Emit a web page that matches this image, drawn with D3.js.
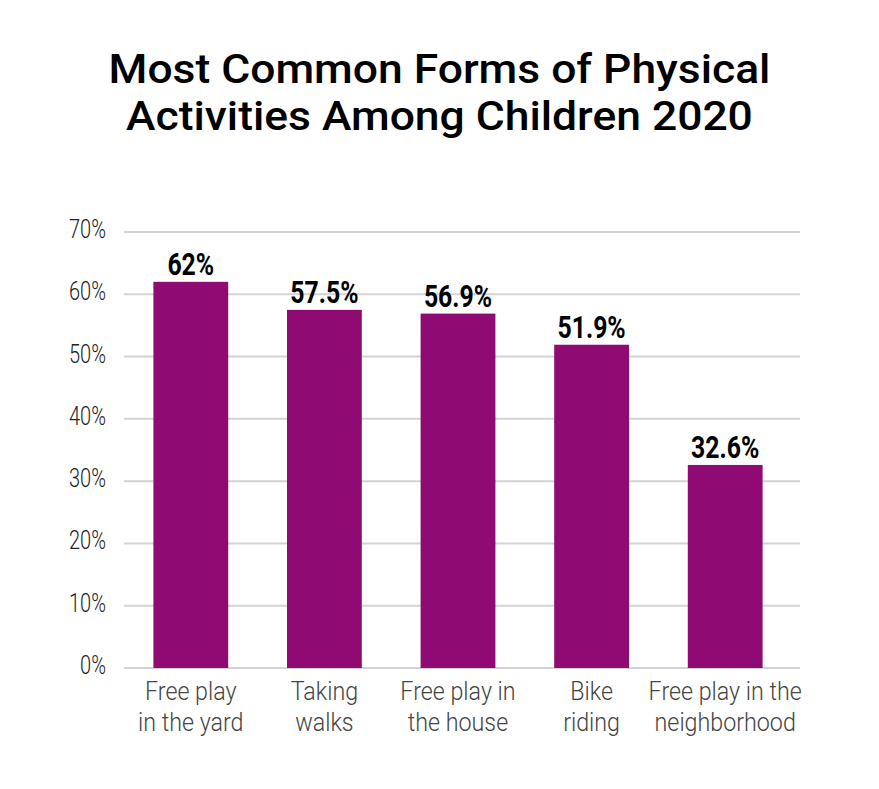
<!DOCTYPE html>
<html>
<head>
<meta charset="utf-8">
<script src="https://cdn.jsdelivr.net/npm/d3@7"></script>
<style>
  html, body { margin: 0; padding: 0; background: #fff; }
  svg { display: block; }
</style>
</head>
<body>
<svg id="chart"></svg>
<script>
// data
const titleLines = ["Most Common Forms of Physical", "Activities Among Children 2020"];
const categories = [
  ["Free play", "in the yard"],
  ["Taking", "walks"],
  ["Free play in", "the house"],
  ["Bike", "riding"],
  ["Free play in the", "neighborhood"]
];
const values = [62, 57.5, 56.9, 51.9, 32.6];
const yTicks = [0, 10, 20, 30, 40, 50, 60, 70];

const W = 879, H = 789;
const margin = { top: 232, right: 92, bottom: 121, left: 124 };
const gridRight = 800;
const font = "Roboto, sans-serif";

// no condensed face installed, so squeeze the glyphs horizontally
function squeeze(sel, k) {
  sel.each(function () {
    const len = this.getComputedTextLength();
    d3.select(this)
      .attr("textLength", len * k)
      .attr("lengthAdjust", "spacingAndGlyphs");
  });
}

const svg = d3.select("#chart").attr("width", W).attr("height", H);

const x = d3.scaleBand()
  .domain(d3.range(categories.length))
  .range([margin.left, W - margin.right + 5])
  .paddingInner(0.44)
  .paddingOuter(0.22);

const y = d3.scaleLinear()
  .domain([0, 70])
  .range([H - margin.bottom, margin.top]);

// title
svg.append("g")
  .selectAll("text")
  .data(titleLines)
  .join("text")
  .attr("x", W / 2)
  .attr("y", (d, i) => 83 + i * 47)
  .attr("text-anchor", "middle")
  .attr("font-family", font)
  .attr("font-weight", 500)
  .attr("font-size", 40)
  .attr("fill", "#000")
  .text(d => d)
  .call(squeeze, 1.11);

// gridlines
svg.append("g")
  .selectAll("line")
  .data(yTicks)
  .join("line")
  .attr("x1", margin.left)
  .attr("x2", gridRight)
  .attr("y1", d => y(d))
  .attr("y2", d => y(d))
  .attr("stroke", "#d3d3d3")
  .attr("stroke-width", 2);

// y axis labels
const yAxis = d3.axisLeft(y)
  .tickValues(yTicks)
  .tickFormat(d => d + "%")
  .tickSize(0)
  .tickPadding(18);

svg.append("g")
  .attr("transform", `translate(${margin.left},0)`)
  .call(yAxis)
  .call(g => g.select(".domain").remove())
  .call(g => g.selectAll("text")
    .attr("font-family", font)
    .attr("font-weight", 300)
    .attr("font-size", 25)
    .attr("fill", "#222")
    .attr("dy", "0.22em")
    .call(squeeze, 0.8));

// bars
svg.append("g")
  .selectAll("rect")
  .data(values)
  .join("rect")
  .attr("x", (d, i) => x(i))
  .attr("width", x.bandwidth())
  .attr("y", d => y(d))
  .attr("height", d => y(0) - y(d))
  .attr("fill", "#8f0a73");

// value labels
svg.append("g")
  .selectAll("text")
  .data(values)
  .join("text")
  .attr("x", (d, i) => x(i) + x.bandwidth() / 2)
  .attr("y", d => y(d) - 7)
  .attr("text-anchor", "middle")
  .attr("font-family", font)
  .attr("font-weight", "bold")
  .attr("font-size", 31)
  .attr("fill", "#000")
  .text(d => d + "%")
  .call(squeeze, 0.8);

// category labels, one text per line
const catLines = categories.flatMap((lines, i) => lines.map((t, j) => ({ t, i, j })));
svg.append("g")
  .selectAll("text")
  .data(catLines)
  .join("text")
  .attr("x", d => x(d.i) + x.bandwidth() / 2)
  .attr("y", d => 700 + d.j * 31)
  .attr("text-anchor", "middle")
  .attr("font-family", font)
  .attr("font-weight", 300)
  .attr("font-size", 25)
  .attr("fill", "#444")
  .text(d => d.t)
  .call(squeeze, 0.93);
</script>
</body>
</html>
